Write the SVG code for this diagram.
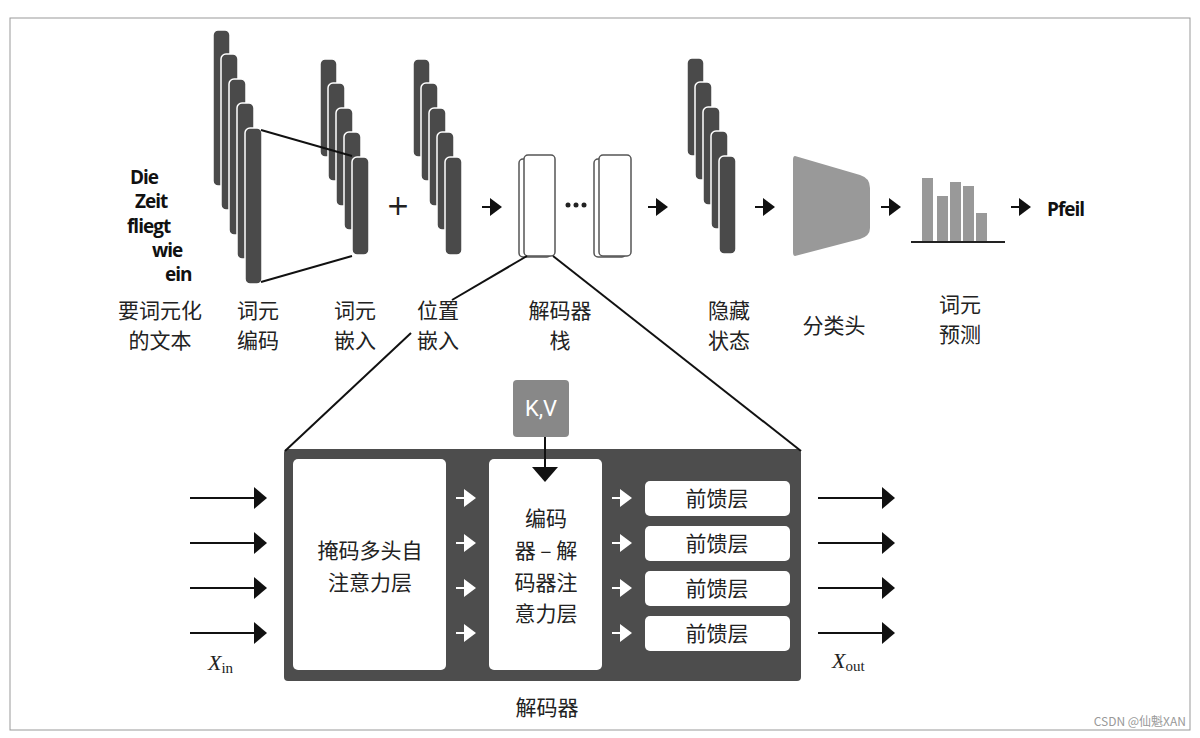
<svg xmlns="http://www.w3.org/2000/svg" width="1200" height="738" viewBox="0 0 1200 738">
<defs>
<style>
.bar{fill:#4a4a4a;stroke:#fff;stroke-width:1.5}
.cn{font-family:"Noto Sans CJK SC","Noto Sans",sans-serif;font-size:21px;fill:#222;text-anchor:middle}
.de{font-family:"Open Sans","DejaVu Sans",sans-serif;font-size:19px;font-weight:bold;fill:#111;letter-spacing:-1px}
.ln{stroke:#111;stroke-width:2;fill:none}
.wb{fill:#fff;stroke:#555;stroke-width:1.5}
</style>
<g id="ah"><line x1="0" y1="0" x2="10" y2="0" stroke="#111" stroke-width="2"/><polygon points="8,-9 20,0 8,9" fill="#111"/></g>
<g id="wa"><line x1="0" y1="0" x2="10" y2="0" stroke="#fff" stroke-width="2"/><polygon points="8,-9 20,0 8,9" fill="#fff"/></g>
<g id="ba"><line x1="0" y1="0" x2="66" y2="0" stroke="#111" stroke-width="2"/><polygon points="64,-11 77,0 64,11" fill="#111"/></g>
</defs>
<rect x="10" y="18" width="1180" height="712" fill="#fff" stroke="#999" stroke-width="1"/>
<g id="text-input">
<text class="de" x="130" y="184">Die</text>
<text class="de" x="135" y="208">Zeit</text>
<text class="de" x="127" y="233">fliegt</text>
<text class="de" x="152" y="257">wie</text>
<text class="de" x="165" y="281">ein</text>
<text class="cn" x="160" y="318">要词元化</text><text class="cn" x="160" y="348">的文本</text>
</g>
<g id="token-encoding">
<rect class="bar" x="213" y="30" width="17" height="156" rx="5"/>
<rect class="bar" x="221" y="54" width="17" height="156" rx="5"/>
<rect class="bar" x="229" y="79" width="17" height="156" rx="5"/>
<rect class="bar" x="237" y="103" width="17" height="156" rx="5"/>
<rect class="bar" x="245" y="128" width="17" height="156" rx="5"/>
<text class="cn" x="258" y="318">词元</text><text class="cn" x="258" y="348">编码</text>
</g>
<g id="token-embedding">
<rect class="bar" x="320" y="59" width="17" height="98" rx="5"/>
<rect class="bar" x="328" y="83" width="17" height="98" rx="5"/>
<rect class="bar" x="336" y="108" width="17" height="98" rx="5"/>
<rect class="bar" x="344" y="132" width="17" height="98" rx="5"/>
<rect class="bar" x="352" y="157" width="17" height="98" rx="5"/>
<text class="cn" x="355" y="318">词元</text><text class="cn" x="355" y="348">嵌入</text>
</g>
<g id="position-embedding">
<rect class="bar" x="413" y="59" width="17" height="98" rx="5"/>
<rect class="bar" x="421" y="83" width="17" height="98" rx="5"/>
<rect class="bar" x="429" y="108" width="17" height="98" rx="5"/>
<rect class="bar" x="437" y="132" width="17" height="98" rx="5"/>
<rect class="bar" x="445" y="157" width="17" height="98" rx="5"/>
<text class="cn" x="438" y="318">位置</text><text class="cn" x="438" y="348">嵌入</text>
</g>
<g id="decoder-stack">
<rect x="519" y="159" width="32" height="98" rx="4" class="wb"/>
<rect x="524" y="155" width="31" height="101" rx="4" class="wb"/>
<rect x="594" y="159" width="32" height="98" rx="4" class="wb"/>
<rect x="599" y="155" width="32" height="101" rx="4" class="wb"/>
<circle cx="568" cy="205" r="2.5" fill="#222"/><circle cx="576" cy="205" r="2.5" fill="#222"/><circle cx="584" cy="205" r="2.5" fill="#222"/>
<text class="cn" x="560" y="318">解码器</text><text class="cn" x="560" y="348">栈</text>
</g>
<g id="hidden-state">
<rect class="bar" x="687" y="58" width="17" height="98" rx="5"/>
<rect class="bar" x="695" y="82" width="17" height="98" rx="5"/>
<rect class="bar" x="703" y="107" width="17" height="98" rx="5"/>
<rect class="bar" x="711" y="131" width="17" height="98" rx="5"/>
<rect class="bar" x="719" y="156" width="17" height="98" rx="5"/>
<text class="cn" x="729" y="318">隐藏</text><text class="cn" x="729" y="348">状态</text>
</g>
<g id="classifier">
<path d="M795 156 L860 175 Q870 178 870 188 L870 228 Q870 236 860 239 L795 256 Q793 256 793 252 L793 160 Q793 156 795 156Z" fill="#999"/>
<text class="cn" x="834" y="333">分类头</text>
</g>
<g id="prediction">
<rect x="922" y="178" width="11" height="64" fill="#999"/>
<rect x="937" y="196" width="11" height="46" fill="#999"/>
<rect x="950" y="182" width="11" height="60" fill="#999"/>
<rect x="963" y="186" width="11" height="56" fill="#999"/>
<rect x="976" y="213" width="11" height="29" fill="#999"/>
<line x1="911" y1="242" x2="1005" y2="242" stroke="#222" stroke-width="2"/>
<text class="cn" x="960" y="312">词元</text><text class="cn" x="960" y="342">预测</text>
</g>
<g id="output"><text class="de" x="1047" y="216" font-size="21">Pfeil</text></g>
<text x="398" y="215" font-family="DejaVu Sans,sans-serif" font-size="28" fill="#222" text-anchor="middle">+</text>
<g id="decoder">
<rect x="284" y="449" width="517" height="232" rx="4" fill="#4d4d4d"/>
<rect x="293" y="459" width="153" height="211" rx="5" fill="#fff"/>
<text class="cn" x="370" y="558">掩码多头自</text><text class="cn" x="370" y="590">注意力层</text>
<rect x="489" y="459" width="113" height="211" rx="5" fill="#fff"/>
<text class="cn" x="546" y="526">编码</text><text class="cn" x="546" y="558">器 – 解</text><text class="cn" x="546" y="590">码器注</text><text class="cn" x="546" y="621">意力层</text>
<rect x="645" y="481" width="145" height="35" rx="5" fill="#fff"/>
<rect x="645" y="526" width="145" height="35" rx="5" fill="#fff"/>
<rect x="645" y="571" width="145" height="35" rx="5" fill="#fff"/>
<rect x="645" y="616" width="145" height="35" rx="5" fill="#fff"/>
<text class="cn" x="717" y="506">前馈层</text><text class="cn" x="717" y="551">前馈层</text><text class="cn" x="717" y="596">前馈层</text><text class="cn" x="717" y="641">前馈层</text>
<text class="cn" x="547" y="715">解码器</text>
</g>
<g id="kv">
<rect x="513" y="380" width="56" height="57" rx="4" fill="#888"/>
<text x="541" y="416" font-family="Roboto,sans-serif" font-size="22" fill="#fff" text-anchor="middle">K,V</text>
</g>
<g id="labels">
<text x="208" y="670" font-family="Liberation Serif,serif" font-size="22" font-style="italic" fill="#222">X<tspan font-style="normal" font-size="15" dy="3">in</tspan></text>
<text x="832" y="668" font-family="Liberation Serif,serif" font-size="22" font-style="italic" fill="#222">X<tspan font-style="normal" font-size="15" dy="3">out</tspan></text>
</g>
<g id="connectors">
<line class="ln" x1="261" y1="130" x2="352" y2="156"/>
<line class="ln" x1="261" y1="282" x2="352" y2="256"/>
<line class="ln" x1="527" y1="256" x2="452" y2="300"/>
<line class="ln" x1="411" y1="333" x2="285" y2="451"/>
<line class="ln" x1="553" y1="256" x2="801" y2="451"/>
<use href="#ah" x="482" y="207"/><use href="#ah" x="648" y="207"/><use href="#ah" x="755" y="207"/><use href="#ah" x="881" y="207"/><use href="#ah" x="1011" y="207"/>
<line x1="545" y1="437" x2="545" y2="470" stroke="#111" stroke-width="2"/>
<polygon points="532,467 558,467 545,482" fill="#111"/>
<use href="#ba" x="190" y="498"/><use href="#ba" x="190" y="543"/><use href="#ba" x="190" y="588"/><use href="#ba" x="190" y="633"/>
<use href="#ba" x="818" y="498"/><use href="#ba" x="818" y="543"/><use href="#ba" x="818" y="588"/><use href="#ba" x="818" y="633"/>
<use href="#wa" x="456" y="498"/><use href="#wa" x="456" y="543"/><use href="#wa" x="456" y="588"/><use href="#wa" x="456" y="633"/>
<use href="#wa" x="612" y="498"/><use href="#wa" x="612" y="543"/><use href="#wa" x="612" y="588"/><use href="#wa" x="612" y="633"/>
</g>
<text x="1186" y="726" font-family="Noto Sans CJK SC,sans-serif" font-size="12" fill="#999" text-anchor="end">CSDN @仙魁XAN</text>
</svg>
